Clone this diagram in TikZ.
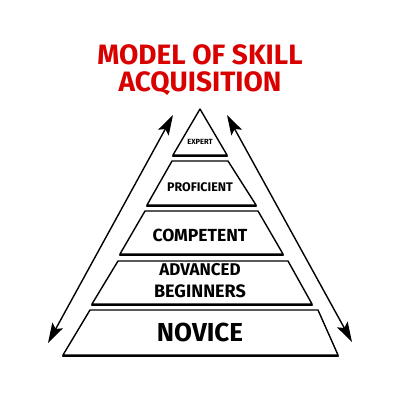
\documentclass[tikz,border=0pt]{standalone}
\usepackage{fontspec}
\setmainfont{Fira Sans}
\usetikzlibrary{arrows.meta}
\begin{document}
\begin{tikzpicture}[x=1pt,y=-1pt,
  layer/.style={draw=black,line width=1.4pt,line join=round},
  base/.style={draw=black,line width=2.2pt,line cap=round},
  lbl/.style={text=black,inner sep=0pt},
  ttl/.style={font=\bfseries\fontsize{28}{30}\selectfont,text=red!85!black,inner sep=0pt,text height=20pt,text depth=1pt},
  tip/.style={Stealth[length=20pt,width=12pt,inset=4pt]},
  arr/.style={draw=black,line width=1.4pt,{Stealth[length=20pt,width=12pt,inset=4pt]}-{Stealth[length=20pt,width=12pt,inset=4pt]}}]
\useasboundingbox[fill=white] (0,0) rectangle (400,400);
% title
\node[ttl] (t1) at (200,55) {MODEL OF SKILL};
\node[ttl] (t2) at (200,82) {ACQUISITION};
% expert triangle
\path[layer] (200,109) -- (227,155) -- (173,155) -- cycle;
\draw[base] (173,156) -- (227,156);
% proficient
\path[layer] (172,161) -- (228,161) -- (256,205) -- (147,205) -- cycle;
\draw[base] (147,206) -- (256,206);
% competent
\path[layer] (145,211) -- (258,211) -- (283,254) -- (120,254) -- cycle;
\draw[base] (120,255) -- (283,255);
% advanced
\path[layer] (118,261) -- (288,261) -- (312,304) -- (92,304) -- cycle;
\draw[base] (92,305) -- (312,305);
% novice
\path[layer] (90,310) -- (318,310) -- (338,355) -- (63,355) -- cycle;
\draw[base] (63,356) -- (338,356);
% labels
\node[lbl,font=\bfseries\fontsize{7.5}{8}\selectfont] (expert) at (200,142) {EXPERT};
\node[lbl,font=\bfseries\fontsize{12.5}{13}\selectfont] (prof) at (200,187) {PROFICIENT};
\node[lbl,font=\bfseries\fontsize{17.5}{18}\selectfont] (comp) at (200,235) {COMPETENT};
\node[lbl,font=\bfseries\fontsize{17}{18}\selectfont] (adv) at (200,270) {ADVANCED};
\node[lbl,font=\bfseries\fontsize{18}{19}\selectfont] (beg) at (200,291) {BEGINNERS};
\node[lbl,font=\bfseries\fontsize{26}{27}\selectfont] (nov) at (200,332) {NOVICE};
% arrows
\coordinate (la) at (48,343);
\coordinate (lb) at (173,115);
\coordinate (ra) at (352,342);
\coordinate (rb) at (227,115);
\draw[arr] (la) -- (lb);
\draw[arr] (ra) -- (rb);
\end{tikzpicture}
\end{document}
